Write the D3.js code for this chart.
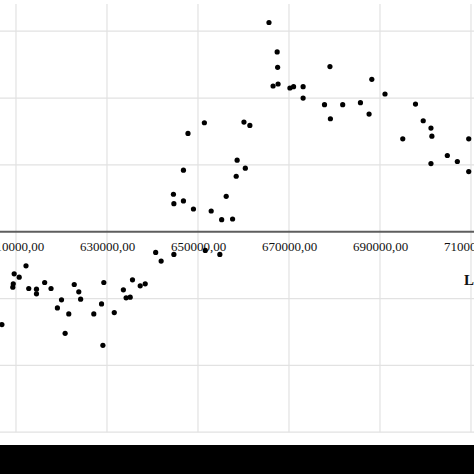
<!DOCTYPE html>
<html>
<head>
<meta charset="utf-8">
<script src="https://cdn.jsdelivr.net/npm/d3@7"></script>
<style>
  html, body { margin: 0; padding: 0; background: #fff; overflow: hidden; }
  svg { display: block; }
  .x.axis text { font-family: "Liberation Serif", "DejaVu Serif", serif; font-size: 13px; fill: #111; }
</style>
</head>
<body>
<div class="scatter-container"></div>
<script>
// data (easting, value)
const eastings = [
  651400, 647800, 660100, 661400, 658600, 660400, 658400, 646800, 644600, 644700,
  646800, 649000, 652900, 656200, 655200, 657600,
  665600, 667400, 667500, 666500, 667600, 670200, 671000, 673100, 673100, 679000,
  677800, 679100, 681800, 685700, 687600, 688200, 691100, 695000, 697800, 699500,
  701200, 701400, 701200, 704800, 707000, 709500, 709500,
  640700, 641900, 644700, 651600, 654800,
  606900, 609600, 610700, 612200, 609400, 609300, 612800, 614500, 614500, 616300,
  617700, 619100, 620000, 620800, 621600, 622800, 623800, 624200, 627100, 628800,
  629300, 629100, 631600, 633600, 634200, 635100, 635600, 637300, 638400
];
const values = [
  1.63, 1.47, 1.64, 1.59, 1.07, 0.95, 0.83, 0.92, 0.56, 0.42,
  0.46, 0.34, 0.31, 0.53, 0.18, 0.19,
  3.13, 2.69, 2.46, 2.18, 2.21, 2.15, 2.17, 2.17, 2.00, 2.47,
  1.90, 1.69, 1.90, 1.93, 1.76, 2.28, 2.06, 1.39, 1.91, 1.66,
  1.55, 1.43, 1.02, 1.14, 1.05, 1.39, 0.90,
  -0.31, -0.44, -0.34, -0.28, -0.34,
  -1.39, -0.63, -0.68, -0.51, -0.78, -0.83, -0.85, -0.86, -0.93, -0.76,
  -0.85, -1.14, -1.02, -1.52, -1.23, -0.79, -0.90, -1.01, -1.23, -1.08,
  -0.76, -1.70, -1.21, -0.87, -0.99, -0.98, -0.72, -0.81, -0.78
];
const xTicks = [610000, 630000, 650000, 670000, 690000, 710000];
const yGrid = [-3, -2, -1, 1, 2, 3];
const xTitle = 'Longitude';

const points = eastings.map((e, i) => ({x: e, y: values[i]}));

const svg_width = 474;
const svg_height = 474;

const svg = d3.select('.scatter-container').append('svg')
  .attr('width', svg_width).attr('height', svg_height);

const xScale = d3.scaleLinear().domain([610000, 710000]).range([16, 471]);
const yScale = d3.scaleLinear().domain([-3, 3]).range([432.2, 31.2]);

// comma as decimal mark, no grouping
const fmt = d3.formatLocale({decimal: ',', thousands: '.', grouping: [3], currency: ['', '']}).format('.2f');

// grid
svg.append('g').selectAll('line.h')
  .data(yGrid).enter().append('line')
  .attr('x1', 0).attr('x2', svg_width)
  .attr('y1', d => yScale(d)).attr('y2', d => yScale(d))
  .style('stroke', '#e2e2e2').style('stroke-width', 1.2);

svg.append('g').selectAll('line.v')
  .data(xTicks).enter().append('line')
  .attr('x1', d => xScale(d)).attr('x2', d => xScale(d))
  .attr('y1', 4).attr('y2', yScale(-3))
  .style('stroke', '#e2e2e2').style('stroke-width', 1.2);

// zero line
svg.append('line')
  .attr('x1', 0).attr('x2', svg_width)
  .attr('y1', yScale(0)).attr('y2', yScale(0))
  .style('stroke', '#5e5e5e').style('stroke-width', 2);

// x axis labels
const xAxis = d3.axisBottom(xScale).tickValues(xTicks).tickFormat(fmt)
  .tickSize(0).tickPadding(10);
const xAxisDraw = svg.append('g').attr('class', 'x axis')
  .attr('transform', `translate(0,${yScale(0)})`).call(xAxis);
xAxisDraw.select('.domain').remove();

svg.append('text')
  .attr('x', 464).attr('y', 284.5)
  .style('font-family', '"Liberation Serif", serif')
  .style('font-weight', 'bold').style('font-size', '15px').style('fill', '#111')
  .text(xTitle);

// dots
svg.selectAll('.dot')
  .data(points).enter()
  .append('circle').attr('class', 'dot')
  .attr('cx', d => xScale(d.x)).attr('cy', d => yScale(d.y))
  .attr('r', 2.6)
  .style('fill', '#000');

// black band at the bottom
svg.append('rect')
  .attr('x', 0).attr('y', 445).attr('width', svg_width).attr('height', svg_height - 445)
  .style('fill', '#000');
</script>
</body>
</html>
